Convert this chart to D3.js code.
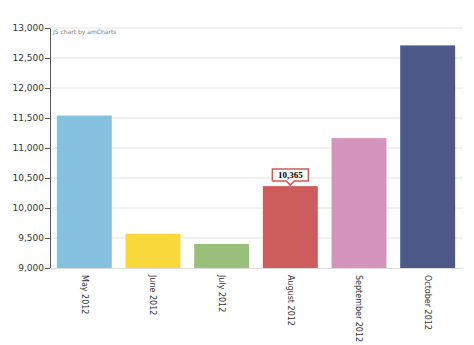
<!DOCTYPE html>
<html><head><meta charset="utf-8">
<script src="https://cdn.jsdelivr.net/npm/d3@7"></script>
<style>html,body{margin:0;padding:0;background:#fff;}</style>
</head><body>
<svg id="c" width="474" height="345"></svg>
<script>
const categories = ["May 2012","June 2012","July 2012","August 2012","September 2012","October 2012"];
const values = [11540, 9570, 9400, 10365, 11165, 12710];
const colors = ["#85c0e0","#f8d83a","#99c07a","#cd5c5c","#d393bb","#4e5889"];
const yTicks = [9000,9500,10000,10500,11000,11500,12000,12500,13000];
const tooltipIndex = 3;

const svg = d3.select("#c");
const m = {left:50, right:12, top:28, bottom:77};
const W = 474, H = 345;
const x = d3.scaleBand().domain(categories).range([m.left, W - m.right]).paddingInner(0.2).paddingOuter(0.1);
const y = d3.scaleLinear().domain([9000,13000]).range([H - m.bottom, m.top]);
const fmt = d3.format(",");

// gridlines
svg.append("g").selectAll("line").data(yTicks.slice(1)).join("line")
  .attr("x1", m.left).attr("x2", W - m.right + 1)
  .attr("y1", d => y(d)).attr("y2", d => y(d))
  .attr("stroke", "#e4e4e4").attr("stroke-width", 1);

// bars
svg.append("g").selectAll("rect").data(values).join("rect")
  .attr("x", (d,i) => x(categories[i]))
  .attr("width", x.bandwidth())
  .attr("y", d => y(d))
  .attr("height", d => y(9000) - y(d))
  .attr("fill", (d,i) => colors[i]);

// y axis
const ya = svg.append("g").attr("transform", `translate(${m.left},0)`)
  .call(d3.axisLeft(y).tickValues(yTicks).tickFormat(fmt).tickSize(5).tickSizeOuter(0));
ya.select(".domain").attr("stroke", "#555");
ya.selectAll(".tick line").attr("stroke", "#555");
ya.selectAll("text").attr("font-family", "Verdana, DejaVu Sans, sans-serif").attr("font-size", 9).attr("fill", "#333").attr("x", -6);

// x axis
const xa = svg.append("g").attr("transform", `translate(0,${H - m.bottom})`)
  .call(d3.axisBottom(x).tickSize(0).tickSizeOuter(0));
xa.select(".domain").attr("stroke", "#ddd").attr("d", `M${m.left},0.5H${W - m.right + 1}`);
xa.selectAll("text")
  .attr("font-family", "DejaVu Sans, Verdana, sans-serif").attr("font-size", 8).attr("fill", "#333")
  .attr("transform", "rotate(90)")
  .attr("text-anchor", "start")
  .attr("x", 7).attr("y", 0).attr("dy", "0.32em");

// watermark
svg.append("text").attr("x", m.left + 3).attr("y", m.top + 6)
  .attr("font-family", "Verdana, DejaVu Sans, sans-serif").attr("font-size", 6).attr("fill", "#777")
  .text("JS chart by amCharts");

// tooltip balloon
const cx = x(categories[tooltipIndex]) + x.bandwidth()/2;
const ty = y(values[tooltipIndex]);
const bw = 36, bh = 12;
const bt = ty - bh - 5;
svg.append("path")
  .attr("d", `M${cx-bw/2},${bt} H${cx+bw/2} V${bt+bh} H${cx+4} L${cx},${bt+bh+4} L${cx-4},${bt+bh} H${cx-bw/2} Z`)
  .attr("fill", "#fff").attr("stroke", "#cd5c5c").attr("stroke-width", 1.5);
svg.append("text").attr("x", cx).attr("y", bt + bh/2).attr("dy", "0.35em")
  .attr("text-anchor", "middle")
  .attr("font-family", "Liberation Serif, Times New Roman, serif").attr("font-weight", "bold").attr("font-size", 9).attr("fill", "#000")
  .text(fmt(values[tooltipIndex]));
</script>
</body></html>
